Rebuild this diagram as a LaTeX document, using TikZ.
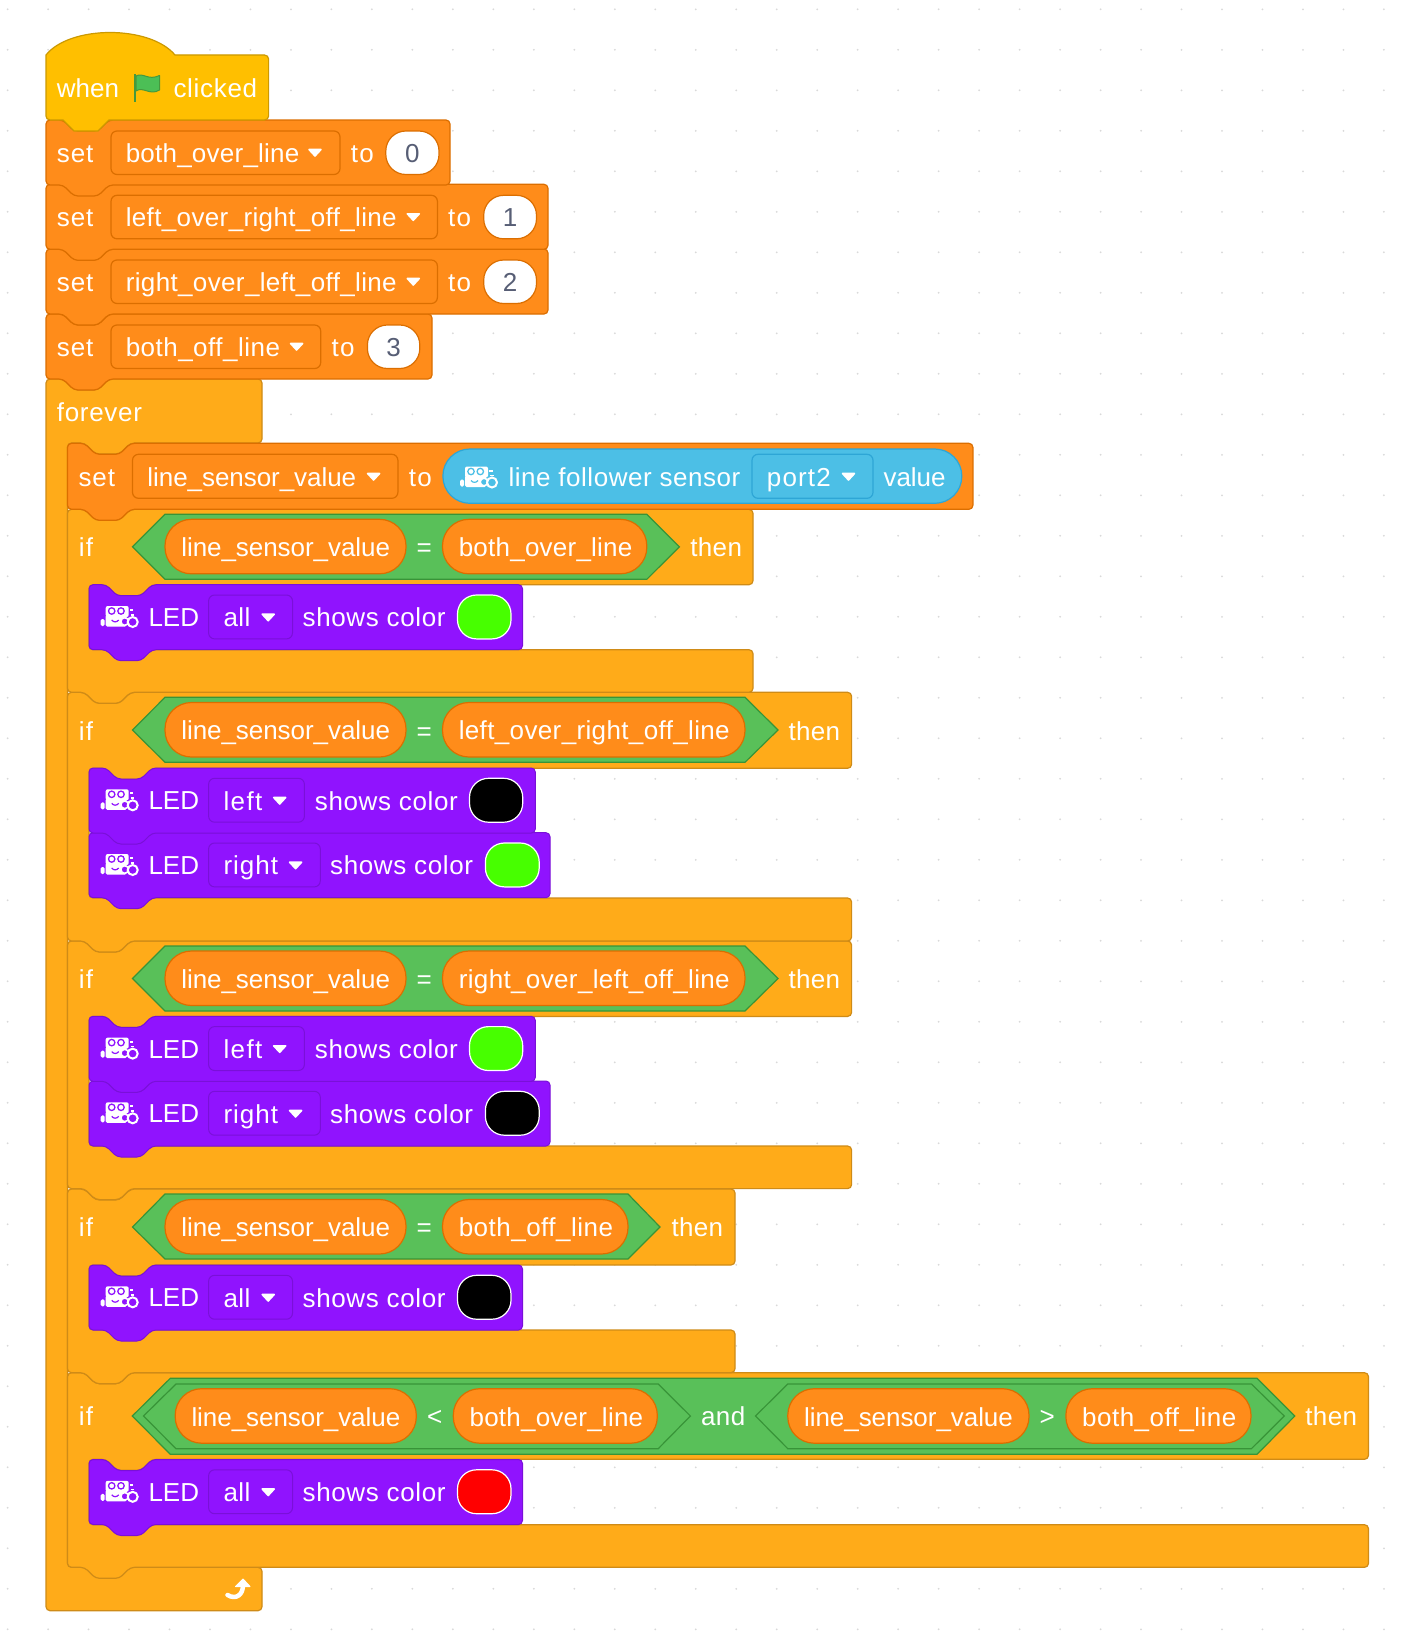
\documentclass[tikz,border=0pt]{standalone}
\usepackage{fontspec}
\setmainfont{Liberation Sans}
\definecolor{ctrl}{HTML}{FFAB19}\definecolor{ctrlS}{HTML}{CF8B17}
\definecolor{hatc}{HTML}{FFBF00}\definecolor{hatS}{HTML}{CC9900}
\definecolor{var}{HTML}{FF8C1A}\definecolor{varS}{HTML}{DB6E00}
\definecolor{opr}{HTML}{59C059}\definecolor{oprS}{HTML}{389438}
\definecolor{pur}{HTML}{9013FE}\definecolor{purS}{HTML}{7A10D8}
\definecolor{sen}{HTML}{4CBFE6}\definecolor{senS}{HTML}{2EA6D6}
\definecolor{num}{HTML}{575E75}\definecolor{dotc}{HTML}{D9D9D9}
\definecolor{lime}{HTML}{47FF00}\definecolor{flagc}{HTML}{4CBF56}\definecolor{flagS}{HTML}{45993D}
\newcounter{lblc}
\newcommand\ls[1]{\addfontfeature{LetterSpace=#1}}
\tikzset{
 lbl/.style={text=white,inner sep=0pt,anchor=base west,font=\fontsize{26}{30}\selectfont},
 numl/.style={lbl,text=num,anchor=base},
 ctrlb/.style={fill=ctrl,draw=ctrlS,line width=1.2pt},
 hatb/.style={fill=hatc,draw=hatS,line width=1.2pt},
 varb/.style={fill=var,draw=varS,line width=1.2pt},
 purb/.style={fill=pur,draw=purS,line width=1pt},
 senb/.style={fill=sen,draw=senS,line width=1.2pt},
 oprb/.style={fill=opr,draw=oprS,line width=1.2pt},
}
\newcommand\tbo{{\ls{0.9}both\_over\_line}}
\newcommand\tbf{{\ls{1.85}both\_off\_line}}
\newcommand\tlo{{\ls{1.4}left\_over\_right\_off\_line}}
\newcommand\tro{{\ls{1.4}right\_over\_left\_off\_line}}
\newcommand\tlv{{\ls{-0.2}line\_sensor\_value}}
\newcommand\tset{{\ls{3.5}set}}
\newcommand\tto{{\ls{5}to}}
\newcommand\tif{{\ls{5}if}}
\newcommand\tthen{{\ls{1.3}then}}
% x, y, xr, yb, style
\newcommand\stackb[5]{\draw[#5,rounded corners=4pt] (#1,#2+20) -- (#1,#2) -- ({#1+17},#2) -- ({#1+28},{#2+11}) -- ({#1+52},{#2+11}) -- ({#1+63},#2) -- (#3,#2) -- (#3,#4) -- ({#1+63},#4) -- ({#1+52},{#4+11}) -- ({#1+28},{#4+11}) -- ({#1+17},#4) -- (#1,#4) -- cycle;}
% ytop, yrow, ybody, ybot, xr
\newcommand\ifb[5]{\draw[ctrlb,rounded corners=4pt] (67.5,#1+20) -- (67.5,#1) -- (84.5,#1) -- (95.5,{#1+11}) -- (119.5,{#1+11}) -- (130.5,#1) -- (#5,#1) -- (#5,#2) -- (152,#2) -- (141,{#2+11}) -- (117,{#2+11}) -- (106,#2) -- (89,#2) -- (89,#3) -- (#5,#3) -- (#5,#4) -- (130.5,#4) -- (119.5,{#4+11}) -- (95.5,{#4+11}) -- (84.5,#4) -- (67.5,#4) -- cycle;}
\newcommand\lbl[3]{\stepcounter{lblc}\node[lbl] (t\arabic{lblc}) at ({#1-0.7},#2) {#3};}
\newcommand\pill[6]{\draw[#5,rounded corners=#6pt] (#1,#3) rectangle (#2,#4);}
\newcommand\darrow[2]{\fill[white,draw=white,line width=1.6pt,line join=round] ({#1-6},{#2-3.5}) -- ({#1+6},{#2-3.5}) -- (#1,{#2+3}) -- cycle;}
\newcommand\hexa[7]{\draw[oprb] (#1,#7) -- (#2,#5) -- (#3,#5) -- (#4,#7) -- (#3,#6) -- (#2,#6) -- cycle;}
\newcommand\robot[3]{\begin{scope}[shift={(#1,#2)}]
 \fill[white,rounded corners=2pt] (5,0) rectangle (28,11);
 \fill[white,rounded corners=1.5pt] (5,9) rectangle (26,20.5);
 \fill[white,rounded corners=1.5pt] (0,13) rectangle (4,20);
 \fill[white] (29,3) rectangle (32.5,5);\fill[white] (30,8) rectangle (33.5,9.6);
 \draw[#3,line width=1.3pt,fill=white] (11,5) circle (3.2pt) (20.3,5) circle (3.2pt);
 \draw[#3,line width=1.2pt] (11,14) .. controls (13,16.5) and (16,16.5) .. (18,14);
 \draw[white,fill=#3,line width=1.6pt] (24,15.5) circle (3.8pt);
 \draw[white,fill=#3,line width=2pt] (32,16) circle (5pt);
\end{scope}}
% ytop xright ddright label arrowx showsx pillL pillR color
\newcommand\led[9]{%
 \stackb{89}{#1}{#2}{#1+65}{purb}
 \robot{100.7}{#1+21.3}{pur}
 \lbl{149}{#1+41.7}{LED}
 \pill{208.6}{#3}{#1+10.3}{#1+54.2}{purb}{6}
 \lbl{224}{#1+42}{#4}
 \darrow{#5}{#1+33}
 \lbl{#6}{#1+42.2}{{\ls{2.4}shows color}}
 \draw[fill=#9,draw=white,line width=1.2pt,rounded corners=19pt] (#7,#1+10.3) rectangle (#8,#1+54.2);}
% ytop xright ddright label arrowx tox pillL pillR digit
\newcommand\setb[9]{%
 \stackb{46}{#1}{#2}{#1+65}{varb}
 \lbl{57.4}{#1+42.3}{\tset}
 \pill{111}{#3}{#1+11}{#1+54.5}{varb}{6}
 \lbl{126.3}{#1+42.3}{#4}
 \darrow{#5}{#1+33}
 \lbl{#6}{#1+42.3}{\tto}
 \draw[fill=white,draw=varS,line width=1.2pt,rounded corners=20pt] (#7,#1+11) rectangle (#8,#1+54.5);
 \stepcounter{lblc}\node[numl] (t\arabic{lblc}) at ({(#7+#8)/2},#1+42.3) {#9};}
\newcommand\vrep[4]{\pill{#1}{#2}{#3-27.5}{#3+27}{varb}{26.5}\lbl{#1+16.8}{#3+9.8}{#4}}
\begin{document}
\begin{tikzpicture}[x=1pt,y=-1pt]
\useasboundingbox (0,0) rectangle (1402,1646);
\fill[white] (0,0) rectangle (1402,1646);
\foreach \i in {0,...,34}{\foreach \j in {0,...,40}{\fill[dotc] ({7.6+40.48*\i},{9.3+40.5*\j}) circle (1pt);}}
% forever
\draw[ctrlb,rounded corners=4pt] (46,399) -- (46,379) -- (63,379) -- (74,390) -- (98,390) -- (109,379) -- (262,379) -- (262,443) -- (130.5,443) -- (119.5,454) -- (95.5,454) -- (84.5,443) -- (67.5,443) -- (67.5,1567.3) -- (262,1567.3) -- (262,1610.7) -- (46,1610.7) -- cycle;
\lbl{57.4}{421}{{\ls{2.7}forever}}
% return arrow
\draw[white,line width=4.5pt,line cap=round] (227.5,1595) .. controls (236,1600) and (243,1595) .. (243,1585);
\fill[white,draw=white,line width=1pt,line join=round] (243,1579) -- (250,1586.5) -- (235.5,1586.5) -- cycle;
% if blocks, bottom first
\ifb{1372.7}{1459.3}{1524.7}{1567.3}{1368.5}
\ifb{1189}{1265}{1330}{1372.7}{735}
\ifb{941}{1016.4}{1146}{1188.6}{851.6}
\ifb{692.3}{768.3}{898}{941}{851.6}
\ifb{509.3}{584.7}{649.7}{692.3}{753}
% if 1
\lbl{79.3}{556.6}{\tif}
\hexa{132.5}{165}{646.8}{679.4}{514.3}{579.3}{546.8}
\vrep{165}{406}{546.8}{\tlv}
\lbl{417}{556.6}{=}
\vrep{442.5}{646.8}{546.8}{\tbo}
\lbl{690.9}{556.6}{\tthen}
% if 2
\lbl{79.3}{740}{\tif}
\hexa{132.5}{165}{745}{778}{697.3}{762.3}{730}
\vrep{165}{406}{730}{\tlv}
\lbl{417}{740}{=}
\vrep{442.5}{745}{730}{\tlo}
\lbl{789}{740}{\tthen}
% if 3
\lbl{79.3}{988}{\tif}
\hexa{132.5}{165}{745}{778}{946}{1011}{978.5}
\vrep{165}{406}{978.5}{\tlv}
\lbl{417}{988}{=}
\vrep{442.5}{745}{978.5}{\tro}
\lbl{789}{988}{\tthen}
% if 4
\lbl{79.3}{1236.7}{\tif}
\hexa{132.5}{165}{628}{660}{1194}{1259}{1227}
\vrep{165}{406}{1227}{\tlv}
\lbl{417}{1236.7}{=}
\vrep{442.5}{628}{1227}{\tbf}
\lbl{672}{1236.7}{\tthen}
% if 5
\lbl{79.3}{1425.5}{\tif}
\hexa{132.3}{170.3}{1257}{1294.8}{1378.3}{1454.3}{1416}
\hexa{143.5}{176}{658.2}{690.4}{1384}{1448.7}{1416}
\hexa{755.5}{787.8}{1251.4}{1284.2}{1384}{1448.7}{1416}
\vrep{175.2}{416.3}{1416.2}{\tlv}
\lbl{427.5}{1425.5}{<}
\vrep{453.3}{657.3}{1416.2}{\tbo}
\lbl{701.5}{1425.5}{{\ls{2}and}}
\vrep{787.8}{1029}{1416.2}{\tlv}
\lbl{1040}{1425.5}{>}
\vrep{1065.9}{1251}{1416.2}{\tbf}
\lbl{1305.9}{1425.5}{\tthen}
% set line sensor
\stackb{67.5}{443.3}{972.9}{509.3}{varb}
\lbl{79}{486}{\tset}
\pill{132.5}{397.9}{454.3}{498.3}{varb}{6}
\lbl{147.9}{486}{\tlv}
\darrow{373.6}{477}
\lbl{409.3}{486}{\tto}
\pill{442.9}{961.8}{449}{503.3}{senb}{27}
\robot{460}{466.5}{sen}
\lbl{509}{486}{{\ls{2.1}line follower sensor}}
\pill{752}{873}{454.3}{498.3}{senb}{6}
\lbl{767.4}{486}{{\ls{4.5}port2}}
\darrow{848.5}{477}
\lbl{884}{486}{value}
% LEDs, bottom first
\led{1459.5}{522.5}{292.5}{{\ls{2}all}}{268.2}{303.2}{457.5}{511}{red}
\led{1265}{522.5}{292.5}{{\ls{2}all}}{268.2}{303.2}{457.5}{511}{black}
\led{1081}{550}{320.3}{{\ls{4}right}}{295.6}{330.7}{485.4}{539.2}{black}
\led{1016.3}{535.3}{304.4}{{\ls{5.4}left}}{279.7}{315.4}{469.5}{522.7}{lime}
\led{832.7}{550}{320.3}{{\ls{4}right}}{295.6}{330.7}{485.4}{539.2}{lime}
\led{768}{535.3}{304.4}{{\ls{5.4}left}}{279.7}{315.4}{469.5}{522.7}{black}
\led{584.7}{522.5}{292.5}{{\ls{2}all}}{268.2}{303.2}{457.5}{511}{lime}
% top stack
\setb{314}{432}{320.7}{\tbf}{296.6}{332}{367.4}{419.8}{3}
\setb{249}{548}{437.4}{\tro}{413.3}{448.5}{483.7}{536.5}{2}
\setb{184.3}{548}{437.4}{\tlo}{413.3}{448.5}{483.7}{536.5}{1}
\setb{120}{450}{340}{\tbo}{315}{351.3}{385.8}{439}{0}
% hat
\draw[hatb] (46,60) -- (46,55) .. controls (70,25) and (150,25) .. (175,55) -- (264.5,55) .. controls (267,55) and (268.6,57) .. (268.6,59) -- (268.6,116) .. controls (268.6,118) and (267,120) .. (264.5,120) -- (109,120) -- (98,131) -- (74,131) -- (63,120) -- (50,120) .. controls (47.5,120) and (46,118) .. (46,116) -- cycle;
\lbl{57.4}{97.7}{when}
\fill[flagS] (133.5,74) rectangle (136,102);
\draw[fill=flagc,draw=flagS,line width=1pt,line join=round] (136,76) .. controls (143,72) and (148,81) .. (159.5,75.5) -- (159.5,90) .. controls (150,96) and (143,86) .. (136,91) -- cycle;
\lbl{174}{97.7}{{\ls{2.7}clicked}}
\end{tikzpicture}
\end{document}
